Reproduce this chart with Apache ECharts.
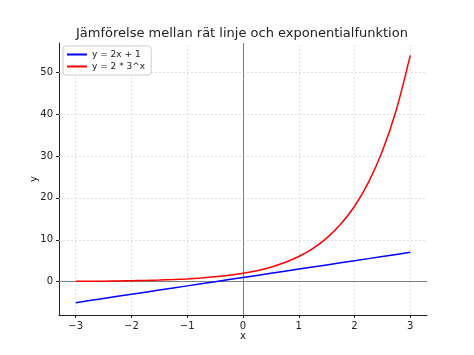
<!DOCTYPE html>
<html><head><meta charset="utf-8">
<script src="https://cdn.jsdelivr.net/npm/echarts@6/dist/echarts.min.js"></script>
<style>html,body{margin:0;padding:0;background:#fff}#c{width:474px;height:355px}</style>
</head><body><div id="c"></div>
<script>
const titleText = 'Jämförelse mellan rät linje och exponentialfunktion';
const seriesNames = ['y = 2x + 1', 'y = 2 * 3^x'];
const xValues = [-3,-2.75,-2.5,-2.25,-2,-1.75,-1.5,-1.25,-1,-0.75,-0.5,-0.25,0,0.25,0.5,0.75,1,1.25,1.5,1.75,2,2.25,2.5,2.75,3];
const lineValues = [-5,-4.5,-4,-3.5,-3,-2.5,-2,-1.5,-1,-0.5,0,0.5,1,1.5,2,2.5,3,3.5,4,4.5,5,5.5,6,6.5,7];
const expValues = [0.074,0.098,0.128,0.169,0.222,0.292,0.385,0.506,0.667,0.877,1.155,1.52,2,2.632,3.464,4.559,6,7.897,10.392,13.677,18,23.689,31.177,41.031,54];
const xTicks = [-3,-2,-1,0,1,2,3];
const yTicks = [0,10,20,30,40,50];

const fmt = v => v < 0 ? '\u2212' + Math.abs(v) : String(v);
const font = 'DejaVu Sans';
const gridStyle = { color: '#d8d8d8', type: [2, 2], width: 0.8 };
const chart = echarts.init(document.getElementById('c'));
chart.setOption({
  animation: false,
  backgroundColor: '#fff',
  title: { text: titleText, left: 71, top: 22,
    textStyle: { fontFamily: font, fontSize: 13, fontWeight: 'normal', color: '#222' } },
  grid: { left: 59, right: 47, top: 43, bottom: 40, containLabel: false },
  legend: {
    orient: 'vertical', left: 63, top: 46, itemGap: 3, itemWidth: 20, itemHeight: 2, zlevel: 2,
    padding: [4, 6, 4, 4], borderColor: '#cccccc', borderWidth: 1, borderRadius: 3,
    backgroundColor: 'rgba(255,255,255,0.85)',
    textStyle: { fontFamily: font, fontSize: 9, color: '#222' },
    data: [{ name: seriesNames[0], icon: 'rect' }, { name: seriesNames[1], icon: 'rect' }]
  },
  xAxis: {
    type: 'value', min: -3.3, max: 3.3,
    name: 'x', nameLocation: 'middle', nameGap: 16, nameMoveOverlap: false,
    nameTextStyle: { fontFamily: font, fontSize: 10, color: '#222' },
    axisLine: { onZero: false, lineStyle: { color: '#222', width: 1 } },
    axisTick: { show: true, length: 3, customValues: xTicks, lineStyle: { color: '#222' } },
    axisLabel: { customValues: xTicks, formatter: fmt, fontFamily: font, fontSize: 10, color: '#222', margin: 6 },
    splitLine: { show: false }
  },
  yAxis: {
    type: 'value', min: -7.95, max: 56.95,
    name: 'y', nameLocation: 'middle', nameGap: 20, nameRotate: 90, nameMoveOverlap: false,
    nameTextStyle: { fontFamily: font, fontSize: 10, color: '#222' },
    axisLine: { show: true, onZero: false, lineStyle: { color: '#222', width: 1 } },
    axisTick: { show: true, length: 3, customValues: yTicks, lineStyle: { color: '#222' } },
    axisLabel: { customValues: yTicks, formatter: fmt, fontFamily: font, fontSize: 10, color: '#222', margin: 6 },
    splitLine: { show: false }
  },
  series: [
    { name: 'grid', type: 'line', data: [], silent: true, z: 1,
      markLine: { silent: true, symbol: 'none', label: { show: false }, lineStyle: gridStyle,
        data: xTicks.map(v => ({ xAxis: v })).concat(yTicks.map(v => ({ yAxis: v }))) } },
    { name: 'axes', type: 'line', data: [], silent: true, z: 2,
      markLine: { silent: true, symbol: 'none', label: { show: false },
        lineStyle: { color: '#808080', type: 'solid', width: 1 },
        data: [{ xAxis: 0 }, { yAxis: 0 }] } },
    { name: seriesNames[0], type: 'line', data: xValues.map((x, i) => [x, lineValues[i]]), zlevel: 1,
      showSymbol: false, lineStyle: { color: '#0000ff', width: 1.5 }, itemStyle: { color: '#0000ff' }, z: 3 },
    { name: seriesNames[1], type: 'line', data: xValues.map((x, i) => [x, expValues[i]]), zlevel: 1,
      smooth: 0.3, showSymbol: false, lineStyle: { color: '#ff0000', width: 1.5 }, itemStyle: { color: '#ff0000' }, z: 4 }
  ]
});
</script></body></html>
